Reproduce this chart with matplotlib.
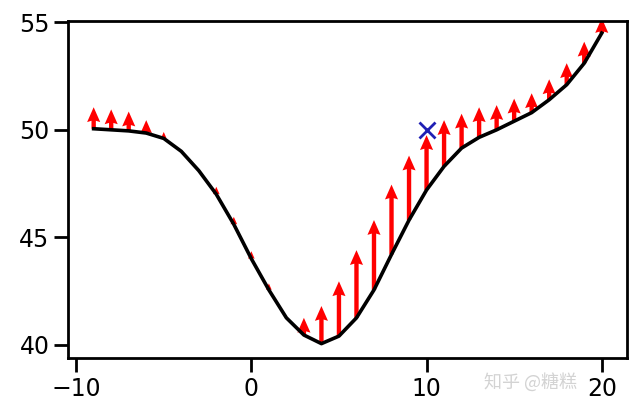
import numpy as np
import matplotlib.pyplot as plt

# curve sampled at integer x
x = np.arange(-9, 21)
y = np.array([50.05, 50.0, 49.95, 49.85, 49.6, 49.0, 48.1, 47.0, 45.6, 44.0,
              42.55, 41.25, 40.45, 40.05, 40.4, 41.25, 42.55, 44.2, 45.8, 47.2,
              48.3, 49.15, 49.65, 50.0, 50.4, 50.8, 51.4, 52.1, 53.1, 54.5])
# vertical arrow lengths from the curve
v = np.array([1.0, 0.95, 0.9, 0.6, 0.3, 0.0, 0.0, 0.35, 0.35, 0.35,
              0.3, 0.0, 0.8, 1.75, 2.55, 3.15, 3.25, 3.25, 3.0, 2.55,
              2.15, 1.6, 1.4, 1.15, 1.05, 0.9, 0.95, 1.0, 1.0, 0.7])
target = (10, 50)

fig = plt.figure(figsize=(6.38, 4.05), dpi=100)
ax = fig.add_axes([0.107, 0.116, 0.876, 0.833])

ax.quiver(x, y, np.zeros_like(v), v, color='red', angles='xy',
          scale_units='xy', scale=1, width=0.0078, headwidth=3,
          headlength=3.4, headaxislength=3.1, minlength=0, zorder=2)
ax.plot(x, y, color='black', lw=2.6, zorder=3)
ax.plot(*target, 'x', color='#1f1fb4', ms=11, mew=2, zorder=4)

ax.set_xlim(-10.45, 21.45)
ax.set_ylim(39.38, 55.08)
ax.set_xticks([-10, 0, 10, 20])
ax.set_yticks([40, 45, 50, 55])
ax.tick_params(labelsize=17, length=10, width=2)
for s in ax.spines.values():
    s.set_linewidth(2)

fig.text(0.905, 0.055, '知乎 @糖糕', fontsize=13, color='#c8c8c8', alpha=0.8,
         ha='right', va='center', family=['Noto Sans CJK SC', 'DejaVu Sans'])

fig.savefig('out.png', dpi=100)
